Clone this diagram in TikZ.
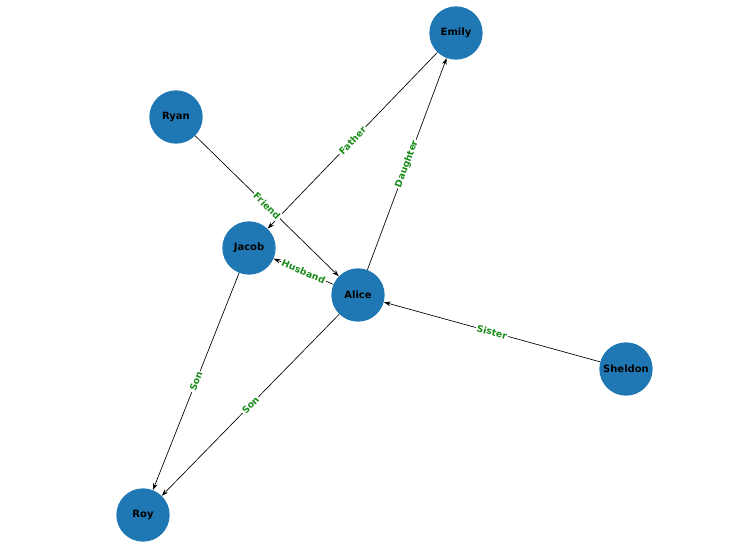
\documentclass[tikz,border=0pt]{standalone}
\usepackage{fontspec}
\setmainfont{DejaVu Sans}
\usetikzlibrary{arrows.meta}
\definecolor{nodeblue}{HTML}{1F78B4}
\definecolor{lblgreen}{HTML}{1A8C1A}
\begin{document}
\begin{tikzpicture}[x=0.75pt,y=-0.75pt,
  gnode/.style={circle,fill=nodeblue,minimum size=40pt,inner sep=0pt,font=\bfseries\fontsize{7.5}{9}\selectfont},
  edge/.style={draw=black,line width=0.5pt,-{Stealth[length=5pt,width=3.5pt]}},
  elab/.style={midway,sloped,fill=white,inner sep=1pt,text=lblgreen,font=\bfseries\fontsize{7}{8}\selectfont}]
\useasboundingbox (0,0) rectangle (736,547);
\node[gnode] (emily) at (456,33) {Emily};
\node[gnode] (ryan) at (176,117) {Ryan};
\node[gnode] (jacob) at (249,248) {Jacob};
\node[gnode] (alice) at (358,295) {Alice};
\node[gnode] (sheldon) at (626,369) {Sheldon};
\node[gnode] (roy) at (143,515) {Roy};
\draw[edge] (emily) -- node[elab]{Father} (jacob);
\draw[edge] (ryan) -- node[elab]{Friend} (alice);
\draw[edge] (alice) -- node[elab]{Daughter} (emily);
\draw[edge] (alice) -- node[elab]{Husband} (jacob);
\draw[edge] (sheldon) -- node[elab]{Sister} (alice);
\draw[edge] (jacob) -- node[elab]{Son} (roy);
\draw[edge] (alice) -- node[elab]{Son} (roy);
\end{tikzpicture}
\end{document}
